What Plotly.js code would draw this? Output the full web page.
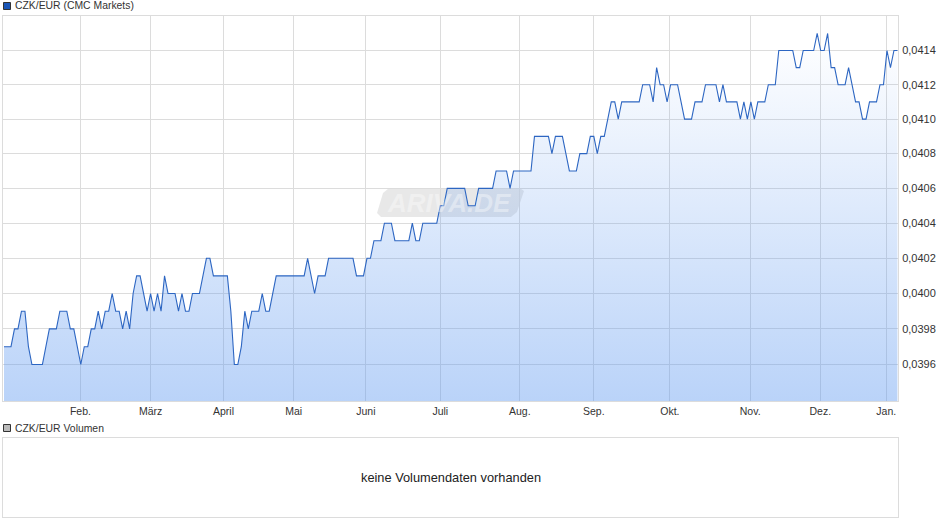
<!DOCTYPE html>
<html><head><meta charset="utf-8">
<script src="https://cdn.plot.ly/plotly-3.0.1.min.js"></script>
<style>html,body{margin:0;padding:0;background:#fff}#c{width:940px;height:526px}</style>
</head><body><div id="c"></div>
<script>
// Price level per trading day, in units of 0.0001 EUR
const levels = [
397,397,397,398,398,399,399,397,396,396,396,396,397,398,398,398,399,399,399,398,398,397,396,397,397,398,398,399,398,399,399,400,
399,399,398,399,398,400,401,401,400,399,400,399,400,399,401,400,400,400,399,400,399,399,400,400,400,401,402,402,401,401,401,401,401,
399,396,396,397,399,398,399,399,399,400,399,399,400,401,401,401,401,401,401,401,401,401,402,401,400,401,401,401,
402,402,402,402,402,402,402,402,401,401,401,402,402,403,403,403,404,404,404,403,403,403,403,403,404,403,403,
404,404,404,404,404,405,405,406,406,406,406,406,406,405,405,405,406,406,406,406,406,407,407,407,407,406,407,407,407,407,407,407,
409,409,409,409,409,408,409,409,409,408,407,407,407,408,408,408,409,409,408,409,409,410,411,411,410,411,411,411,411,411,411,
412,412,412,411,413,412,412,411,412,412,412,411,410,410,410,411,411,411,412,412,412,412,411,412,411,411,411,411,410,411,410,411,410,411,411,411,
412,412,412,414,414,414,414,414,413,413,414,414,414,414,415,414,414,415,413,413,412,412,412,413,412,411,411,410,410,411,411,411,412,412,414,413,414,414
];
const prices = levels.map(v => v / 10000);
const days = levels.map((_, i) => i);
const monthLabels = ['Feb.','März','April','Mai','Juni','Juli','Aug.','Sep.','Okt.','Nov.','Dez.','Jan.'];
const monthDays = [21.9,42,62.9,83,103.7,125,147.8,169,190.8,213.8,233.9,252.8];
const priceTicks = [0.0396,0.0398,0.04,0.0402,0.0404,0.0406,0.0408,0.041,0.0412,0.0414];
const priceLabels = ['0,0396','0,0398','0,0400','0,0402','0,0404','0,0406','0,0408','0,0410','0,0412','0,0414'];

const W=940,H=526,L=3,R=898,T=16,B=517,B1=401,T2=437;
const px=x=>(x-L)/(R-L), py=y=>(B-y)/(B-T);
const grid='#dcdcdc', txt='#333333', font='"Liberation Sans", Arial, sans-serif';
const spacing=3.49, x0=(L-4)/spacing, x1=(R-4)/spacing;
// the price axis of the reference is logarithmic: 0.0396 at y=364.5, 7064 px per natural-log unit
const yAt=p=>0.0396*Math.exp((364.5-p)/7064);

function sq(y,fill){return {type:'rect',xref:'paper',yref:'paper',x0:px(3.5),x1:px(10.5),y0:py(y+3.5),y1:py(y-3.5),fillcolor:fill,line:{color:'#333',width:1}};}
function lab(x,y,t,size,anchor,color){return {xref:'paper',yref:'paper',x:px(x),y:py(y),text:t,showarrow:false,xanchor:anchor||'left',yanchor:'middle',font:{family:font,size:size||11,color:color||txt}};}
const wm=[[389,188],[520,188],[524,191],[517,212],[511,217],[381,217],[377,213],[383,193]];
const wmPath='M'+wm.map(p=>px(p[0])+','+py(p[1])).join(' L')+' Z';

Plotly.newPlot('c',[
 {x:days,y:prices,xaxis:'x',yaxis:'y',type:'scatter',mode:'lines',line:{color:'#2d66c2',width:1.1},
  fill:'tozeroy',fillgradient:{type:'vertical',start:yAt(33),stop:yAt(401),
   colorscale:[[0,'rgba(90,150,240,0)'],[1,'rgba(90,150,240,0.42)']]},hoverinfo:'skip',showlegend:false},
 {x:[null],y:[null],xaxis:'x2',yaxis:'y2',type:'scatter',mode:'lines',showlegend:false,hoverinfo:'skip'}
],{
 width:W,height:H,paper_bgcolor:'#fff',plot_bgcolor:'#fff',showlegend:false,
 margin:{l:L,r:W-R,t:T,b:H-B,pad:0},
 xaxis:{domain:[0,1],anchor:'y',range:[x0,x1],tickmode:'array',tickvals:monthDays,ticktext:monthLabels,
  showgrid:true,gridcolor:grid,gridwidth:1,zeroline:false,showline:true,linecolor:grid,linewidth:1,mirror:true,
  ticks:'',tickfont:{family:font,size:10.5,color:txt},tickangle:0},
 yaxis:{domain:[py(B1),1],anchor:'x',side:'right',type:'log',range:[Math.log10(yAt(B1)),Math.log10(yAt(T))],tickmode:'array',tickvals:priceTicks,ticktext:priceLabels,
  showgrid:true,gridcolor:grid,gridwidth:1,zeroline:false,showline:true,linecolor:grid,linewidth:1,mirror:true,
  ticks:'outside',ticklen:1,tickcolor:'rgba(0,0,0,0)',tickfont:{family:font,size:11,color:txt}},
 xaxis2:{domain:[0,1],anchor:'y2',range:[0,1],showticklabels:false,ticks:'',showgrid:false,zeroline:false,showline:true,linecolor:grid,linewidth:1,mirror:true},
 yaxis2:{domain:[0,py(T2+0.5)],anchor:'x2',range:[0,1],showticklabels:false,ticks:'',showgrid:false,zeroline:false,showline:true,linecolor:grid,linewidth:1,mirror:true},
 shapes:[sq(6,'#1a56b8'),sq(428,'#bbbbbb'),
  {type:'path',xref:'paper',yref:'paper',path:wmPath,fillcolor:'rgba(0,0,0,0.09)',line:{width:0},layer:'below'}],
 annotations:[
  lab(13,5,'CZK/EUR (CMC Markets)',10.4),
  lab(13,428,'CZK/EUR Volumen',10.4),
  lab(451,477.5,'keine Volumendaten vorhanden',12.8,'center','#222222'),
  lab(449,203,'<b><i>ARIVA.DE</i></b>',26,'center','rgba(255,255,255,0.38)')
 ]
},{staticPlot:true,displayModeBar:false});
</script></body></html>
